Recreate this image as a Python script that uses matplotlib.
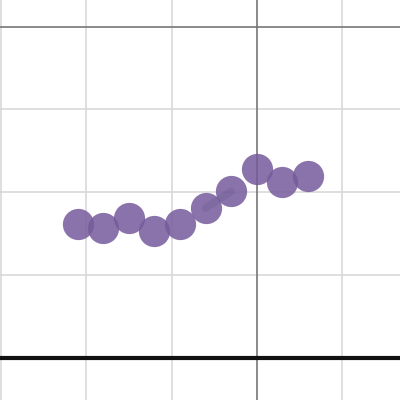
import matplotlib
matplotlib.use('Agg')
import matplotlib.pyplot as plt

# Point data (grid unit = 1)
x_vals = [-2.1, -1.8, -1.5, -1.2, -0.9, -0.6, -0.3, 0.0, 0.3, 0.6]
y_vals = [-2.38, -2.43, -2.31, -2.47, -2.38, -2.19, -1.99, -1.72, -1.87, -1.80]

# short segment drawn between the 6th and 7th points
seg_x = [x_vals[5], x_vals[6]]
seg_y = [y_vals[5], y_vals[6]]

# horizontal reference line
line_y = -4

grid_x = [-3, -2, -1, 1]
grid_y = [-1, -2, -3]

fig = plt.figure(figsize=(4, 4), dpi=100)
ax = fig.add_axes([0, 0, 1, 1])

# Grid lines
for gx in grid_x:
    ax.axvline(gx, color='#d6d6d6', linewidth=1.1, zorder=0)
for gy in grid_y:
    ax.axhline(gy, color='#d6d6d6', linewidth=1.1, zorder=0)

# Axes through the origin
ax.axvline(0, color='#777777', linewidth=1.2, zorder=1)
ax.axhline(0, color='#777777', linewidth=1.2, zorder=1)

# Thick black line
ax.axhline(line_y, color='#111111', linewidth=3.0, zorder=2)

# Points, with the faint segment on top
ax.plot(x_vals, y_vals, linestyle='none', marker='o', markersize=22.5,
        markerfacecolor='#755b9b', markeredgewidth=0, alpha=0.85, zorder=3)
ax.plot(seg_x, seg_y, color='#5e4a86', alpha=0.22, linewidth=5.5,
        solid_capstyle='round', zorder=4)

ax.set_xlim(-3.013, 1.682)
ax.set_ylim(-4.508, 0.322)
ax.set_xticks([])
ax.set_yticks([])
for s in ax.spines.values():
    s.set_visible(False)

plt.savefig('out.png', dpi=100)
